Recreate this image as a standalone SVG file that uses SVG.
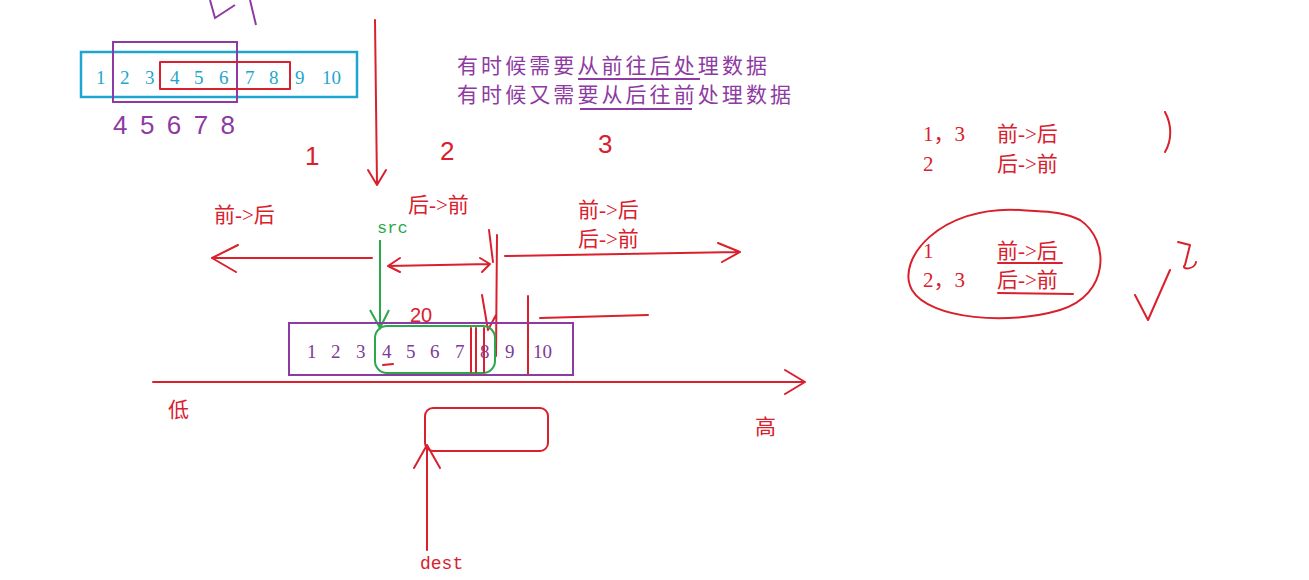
<svg xmlns="http://www.w3.org/2000/svg" width="1309" height="580" viewBox="0 0 1309 580">
<style>
.r{fill:none;stroke:#d9202c;stroke-width:2;stroke-linecap:round;stroke-linejoin:round}
.p{fill:none;stroke:#8e3aa3;stroke-width:2}
.g{fill:none;stroke:#2aa84a;stroke-width:2}
.b{fill:none;stroke:#1ea6d0;stroke-width:2.5}
.tb{font-family:"Liberation Serif",serif;font-size:19px;fill:#1ea6d0}
.tp{font-family:"Liberation Serif",serif;font-size:19px;fill:#7e3a97}
.tr{font-family:"Liberation Serif","Noto Sans CJK SC",serif;font-size:21px;fill:#d9202c}
.tc{font-family:"Liberation Serif","Noto Sans CJK SC",serif;font-size:21px;fill:#8e3aa3}
.hp{font-family:"Liberation Sans",sans-serif;font-size:26px;fill:#8e3aa3}
.hr{font-family:"Liberation Sans",sans-serif;font-size:26px;fill:#d9202c}
</style>
<rect width="1309" height="580" fill="#fff"/>
<g id="top-array">
<rect class="b" x="81" y="52" width="276" height="45"/>
<rect class="p" x="113" y="42" width="124" height="60"/>
<rect class="r" x="160" y="62" width="130" height="27"/>
<text class="tb" y="84"><tspan x="96">1</tspan><tspan x="120">2</tspan><tspan x="145">3</tspan><tspan x="170">4</tspan><tspan x="194">5</tspan><tspan x="219">6</tspan><tspan x="245">7</tspan><tspan x="269">8</tspan><tspan x="295">9</tspan><tspan x="322">10</tspan></text>
<text class="hp" x="113" y="134" textLength="122">45678</text>
<path class="p" d="M210 0 L215 18 L235 5 M250 0 L256 25"/>
</g>
<g id="notes">
<text class="tc" x="457" y="73" textLength="310">有时候需要从前往后处理数据</text>
<text class="tc" x="457" y="102" textLength="334">有时候又需要从后往前处理数据</text>
<path class="p" d="M578 79 L700 79 M580 109 L692 109"/>
</g>
<g id="labels">
<text class="hr" x="305" y="165">1</text>
<text class="hr" x="440" y="160">2</text>
<text class="hr" x="598" y="153">3</text>
<text class="tr" x="214" y="222">前-&gt;后</text>
<text class="tr" x="408" y="212">后-&gt;前</text>
<text class="tr" x="578" y="217">前-&gt;后</text>
<text class="tr" x="578" y="246">后-&gt;前</text>
<text x="377" y="233" style="font-family:'Liberation Mono',monospace;font-size:17px;fill:#2aa84a">src</text>
<text class="hr" x="410" y="322" style="font-size:20px">20</text>
<text class="tr" x="168" y="417">低</text>
<text class="tr" x="755" y="434">高</text>
<text x="420" y="569" style="font-family:'Liberation Mono',monospace;font-size:18px;fill:#d9202c">dest</text>
</g>
<g id="connectors">
<path class="r" d="M375 20 L377 185 M368 170 L377 185 L386 170"/>
<path class="r" d="M372 258 L212 258 M238 245 L212 258 L236 272"/>
<path class="r" d="M505 256 L738 252 M718 243 L740 252 L722 262"/>
<path class="r" d="M388 266 L490 264 M400 258 L388 266 L400 272 M480 258 L490 264 L482 272"/>
<path class="r" d="M497 235 L496 356 M489 230 L493 262 M482 295 L488 330 L496 315 M528 296 L528 375 M540 318 L648 315"/>
<path class="r" d="M153 382 L803 382 M785 370 L805 382 L785 394"/>
<path class="r" d="M427 550 L427 445 M414 468 L427 445 L440 468"/>
<path class="g" d="M380 240 L380 328 M370 310 L380 328 L389 310"/>
</g>
<g id="bottom-array">
<rect class="p" x="289" y="323" width="284" height="52"/>
<rect class="g" x="375" y="326" width="120" height="47" rx="12"/>
<text class="tp" y="358"><tspan x="307">1</tspan><tspan x="331">2</tspan><tspan x="356">3</tspan><tspan x="382">4</tspan><tspan x="406">5</tspan><tspan x="430">6</tspan><tspan x="455">7</tspan><tspan x="480">8</tspan><tspan x="505">9</tspan><tspan x="533">10</tspan></text>
<path class="r" d="M471 328 L471 372 M476 328 L476 372 M484 328 L484 372 M383 365 L393 364"/>
</g>
<g id="dest-box">
<rect class="r" x="425" y="408" width="123" height="43" rx="8"/>
</g>
<g id="right-notes">
<text class="tr" x="923" y="141">1，3</text><text class="tr" x="997" y="141">前-&gt;后</text>
<text class="tr" x="923" y="171">2</text><text class="tr" x="997" y="171">后-&gt;前</text>
<text class="tr" x="923" y="258">1</text><text class="tr" x="997" y="258">前-&gt;后</text>
<text class="tr" x="923" y="287">2，3</text><text class="tr" x="997" y="287">后-&gt;前</text>
<path class="r" d="M998 263 L1062 263 M998 293 L1073 294"/>
<path class="r" d="M1020 210 C940 205 895 260 912 290 C930 320 1010 325 1060 310 C1110 295 1110 240 1080 220 C1060 210 1040 212 1020 210"/>
<path class="r" d="M1165 112 C1172 125 1172 140 1165 152 M1135 295 L1148 320 L1170 270 M1178 242 L1190 245 L1185 265 C1180 270 1195 270 1196 262"/>
</g>
</svg>
